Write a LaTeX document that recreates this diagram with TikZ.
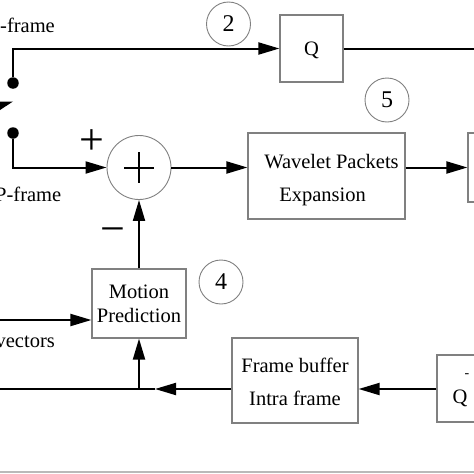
\documentclass[tikz,border=0pt]{standalone}
\usepackage{fontspec}
\setmainfont{Liberation Serif}
\usetikzlibrary{arrows.meta}
\begin{document}
\begin{tikzpicture}[x=1pt, y=-1pt, >={Triangle[length=21pt,width=12pt]},
    wire/.style={line width=2pt},
    blockbox/.style={draw=gray, line width=1.2pt, inner sep=0pt, align=center,
        font=\fontsize{20.5}{24}\selectfont},
    tagcircle/.style={circle, draw=gray, line width=0.9pt, minimum size=44pt,
        inner sep=0pt, font=\fontsize{24}{24}\selectfont},
    swdot/.style={circle, fill=black, inner sep=0pt, minimum size=11.5pt},
    txt/.style={inner sep=0pt, font=\fontsize{20.5}{24}\selectfont},
    signlbl/.style={inner sep=0pt, font=\fontsize{44}{44}\selectfont}]
    \useasboundingbox (0,0) rectangle (474,474);
    \clip (0,0) rectangle (474,474);

    % Blocks
    \node[blockbox, minimum width=63pt, minimum height=67pt, text depth=0pt] (qbox) at (311.5,48.5) {Q};
    \node[blockbox, minimum width=157pt, minimum height=86pt, align=left,
        font=\fontsize{20.5}{33}\selectfont] (wave) at (326.5,176)
        {\rule{0pt}{22pt}\hspace*{10pt}Wavelet Packets\\\hspace*{25pt}Expansion};
    \node[blockbox, minimum width=80pt, minimum height=69pt] (coder) at (508,167.5) {};
    \node[blockbox, minimum width=94pt, minimum height=69pt] (motion) at (139,303.5) {Motion\\Prediction};
    \node[blockbox, minimum width=126pt, minimum height=85pt,
        font=\fontsize{20.5}{33}\selectfont] (fbuf) at (295,380.5) {\rule{0pt}{18pt}Frame buffer\\Intra frame};
    \node[blockbox, minimum width=83pt, minimum height=67pt] (qinv) at (478.5,388.5) {};
    \node[txt, anchor=base west] (qinvq) at (452.5,403) {Q};
    \node[inner sep=0pt, anchor=base, font=\fontsize{14}{14}\selectfont] (qinvsup) at (467,377.5) {-};

    % Adder
    \node[circle, draw=gray, line width=0.9pt, minimum size=64pt, inner sep=0pt] (sum) at (139,167.5) {};
    \draw[wire] (sum.center) ++(-15,0) -- ++(30,0);
    \draw[wire] (sum.center) ++(0,-15.5) -- ++(0,31);
    \node[signlbl, anchor=base] (plus) at (92,154.5) {+};
    \node[signlbl, anchor=base] (minus) at (113,243) {−};

    % Step numbers
    \node[tagcircle] (tagtwo) at (228.5,24) {2};
    \node[tagcircle] (tagfive) at (387,100) {5};
    \node[tagcircle] (tagfour) at (221,282) {4};

    % Switch
    \node[swdot] (swa) at (13,83) {};
    \node[swdot] (swb) at (13,133) {};
    \fill (0,101.5) -- (13,101.5) -- (0,110) -- cycle;
    \node[txt, anchor=base west] (iframe) at (0,32) {-frame};
    \node[txt, anchor=base west] (pframe) at (-5,201) {P-frame};
    \node[txt, anchor=base east] (mvlabel) at (55,347) {vectors};

    % Free ends
    \coordinate (qout) at (474,48.5);
    \coordinate (mvin) at (0,320);
    \coordinate (fbtip) at (155,389);
    \coordinate (fbleft) at (0,389);
    \coordinate (fbjoin) at (139,389);

    % Connections
    \draw[wire, ->] (swa) |- (qbox.west);
    \draw[wire] (qbox.east) -- (qout);
    \draw[wire, ->] (swb) |- (sum.west);
    \draw[wire, ->] (sum.east) -- (sum.east -| wave.west);
    \draw[wire, ->] (coder.west -| wave.east) -- (coder.west);
    \draw[wire, ->] (motion.north) -- (sum.south);
    \draw[wire, ->] (mvin) -- (mvin -| motion.west);
    \draw[wire, ->] (qinv.west |- fbtip) -- (fbuf.east |- fbtip);
    \draw[wire, ->] (fbuf.west |- fbtip) -- (fbtip);
    \draw[wire] (fbtip) -- (fbleft);
    \draw[wire, ->] (fbjoin) -- (motion.south);

    % Outer frame edge
    \draw[line width=2pt, gray!55] (0,472) -- (474,472);
\end{tikzpicture}
\end{document}
